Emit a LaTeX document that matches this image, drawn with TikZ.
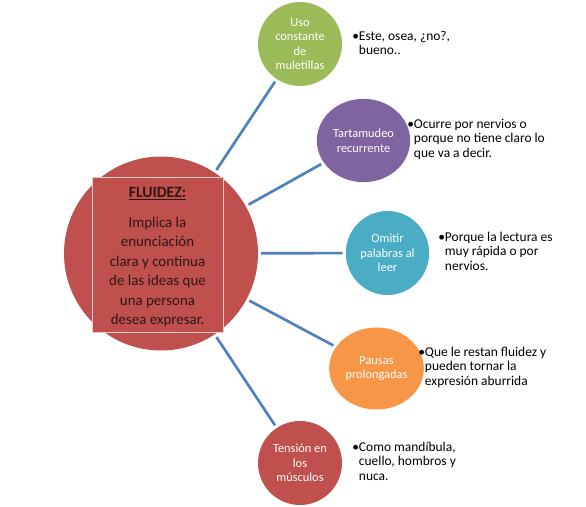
\documentclass[tikz,border=0pt]{standalone}
\usepackage{fontspec}
\setmainfont{Carlito}
\usetikzlibrary{shapes.geometric}
\definecolor{cred}{HTML}{C0504D}
\definecolor{cgreen}{HTML}{9BBB59}
\definecolor{cpurple}{HTML}{8064A2}
\definecolor{cblue}{HTML}{4BACC6}
\definecolor{corange}{HTML}{F79646}
\definecolor{cline}{HTML}{4F81BD}
\definecolor{ctext}{RGB}{45,22,22}
\tikzset{
  bubble/.style={ellipse, inner sep=0pt, text=white, align=center,
    font=\fontsize{9.3pt}{10.9pt}\selectfont},
  note/.style={anchor=north west, inner sep=0pt,
    font=\fontsize{10.1pt}{10.9pt}\selectfont},
  conn/.style={draw=cline, line width=2pt, shorten <=2.2pt, shorten >=2.2pt},
}
\newcommand{\bl}[1]{\begin{tabular}{@{}l@{}l@{}}#1\end{tabular}}
\begin{document}
\begin{tikzpicture}[x=0.75pt,y=-0.75pt]
\useasboundingbox[fill=white] (0,0) rectangle (586,507);
% central circle
\node[circle, fill=cred, minimum size=145.5pt, inner sep=0pt] (big) at (161,253.5) {};
\node[draw=white!70!cred, line width=0.6pt, fill=cred, minimum width=98.25pt, minimum height=116.25pt, inner sep=0pt] (box) at (157.5,254.5) {};
\node[text=ctext, align=center, font=\fontsize{11.2pt}{14.6pt}\selectfont] (txt) at (157.5,257) {{\fontsize{11.8pt}{14pt}\selectfont\underline{\textbf{FLUIDEZ:}}}\\[8pt]Implica la\\enunciación\\clara y continua\\de las ideas que\\una persona\\desea expresar.};
% satellites
\node[bubble, fill=cgreen, minimum width=63pt, minimum height=63pt] (g) at (300,44) {Uso\\constante\\de\\muletillas};
\node[bubble, fill=cpurple, minimum width=70pt, minimum height=62.5pt] (p) at (363.5,140.5) {Tartamudeo\\recurrente};
\node[bubble, fill=cblue, minimum width=62.5pt, minimum height=63pt] (b) at (387.5,253) {Omitir\\palabras al\\leer};
\node[bubble, fill=corange, minimum width=71pt, minimum height=61.5pt] (o) at (376.5,368.5) {Pausas\\prolongadas};
\node[bubble, fill=cred, minimum width=63pt, minimum height=63pt] (r) at (300,463) {Tensión en\\los\\músculos};
% connectors
\draw[conn] (big) -- (g);
\draw[conn] (big) -- (p);
\draw[conn] (big) -- (b);
\draw[conn] (big) -- (o);
\draw[conn] (big) -- (r);
% notes
\node[note] (ng) at (352,30) {\bl{•&Este, osea, ¿no?,\\&bueno..}};
\node[note] (np) at (407,118) {\bl{•&Ocurre por nervios o\\&porque no tiene claro lo\\&que va a decir.}};
\node[note] (nb) at (438,231) {\bl{•&Porque la lectura es\\&muy rápida o por\\&nervios.}};
\node[note] (no) at (418,346) {\bl{•&Que le restan fluidez y\\&pueden tornar la\\&expresión aburrida}};
\node[note] (nr) at (352,441) {\bl{•&Como mandíbula,\\&cuello, hombros y\\&nuca.}};
\end{tikzpicture}
\end{document}
